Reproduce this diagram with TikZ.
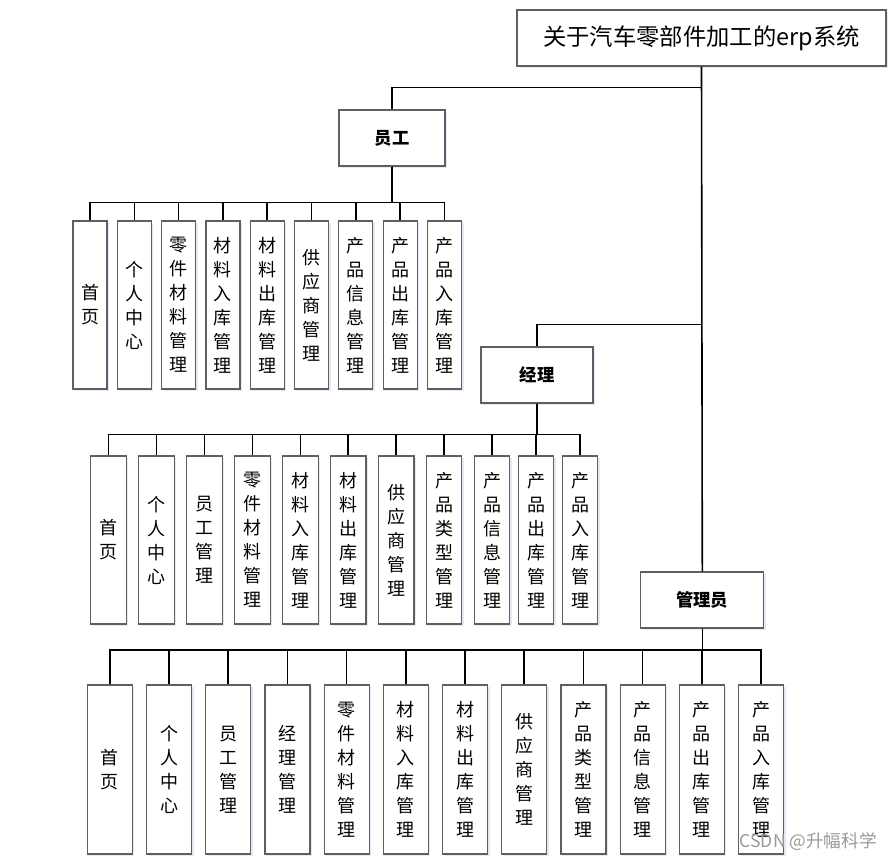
\documentclass[tikz,border=0pt]{standalone}
\usepackage{fontspec}
\newfontfamily\cjk{Noto Sans CJK SC}
\usetikzlibrary{shadows}
\definecolor{boxline}{RGB}{95,95,95}
\definecolor{shadowc}{RGB}{170,195,230}
\tikzset{
  basebox/.style={draw=boxline, line width=0.9pt, fill=white, rectangle, inner sep=0pt,
    drop shadow={shadow xshift=1.6pt, shadow yshift=-1.6pt, fill=shadowc, opacity=0.35}},
  rolebox/.style={basebox, minimum height=56*0.75pt, font=\cjk\bfseries\fontsize{13}{16}\selectfont},
  leafbox/.style={basebox, minimum height=168*0.75pt, align=center,
    font=\cjk\fontsize{13.5}{18}\selectfont},
  ebox/.style={leafbox, minimum width=34*0.75pt},
  mbox/.style={leafbox, minimum width=35.5*0.75pt},
  abox/.style={leafbox, minimum width=45*0.75pt, minimum height=169*0.75pt},
  conn/.style={draw=black, line width=1.2pt},
}
\begin{document}
\begin{tikzpicture}[x=0.75pt,y=-0.75pt]
\useasboundingbox (0,0) rectangle (891,860);
% root and roles
\node[basebox, minimum width=369*0.75pt, minimum height=56*0.75pt, font=\cjk\fontsize{17.5}{20}\selectfont] (root) at (701.5,38) {关于汽车零部件加工的erp系统};
\node[rolebox, minimum width=106*0.75pt] (emp) at (392,138) {员工};
\node[rolebox, minimum width=112*0.75pt] (mgr) at (537,375) {经理};
\node[rolebox, minimum width=123*0.75pt] (adm) at (702.3,600) {管理员};

% employee leaves
\node[ebox] (e1) at (90,305) {首\\页};
\node[ebox] (e2) at (134.3,305) {个\\人\\中\\心};
\node[ebox] (e3) at (178.6,305) {零\\件\\材\\料\\管\\理};
\node[ebox] (e4) at (222.9,305) {材\\料\\入\\库\\管\\理};
\node[ebox] (e5) at (267.2,305) {材\\料\\出\\库\\管\\理};
\node[ebox] (e6) at (311.5,305) {供\\应\\商\\管\\理};
\node[ebox] (e7) at (355.8,305) {产\\品\\信\\息\\管\\理};
\node[ebox] (e8) at (400.1,305) {产\\品\\出\\库\\管\\理};
\node[ebox] (e9) at (444.4,305) {产\\品\\入\\库\\管\\理};

% manager leaves
\node[mbox] (m1) at (108.5,540) {首\\页};
\node[mbox] (m2) at (156.6,540) {个\\人\\中\\心};
\node[mbox] (m3) at (204.6,540) {员\\工\\管\\理};
\node[mbox] (m4) at (252.5,540) {零\\件\\材\\料\\管\\理};
\node[mbox] (m5) at (300.5,540) {材\\料\\入\\库\\管\\理};
\node[mbox] (m6) at (348.2,540) {材\\料\\出\\库\\管\\理};
\node[mbox] (m7) at (396.2,540) {供\\应\\商\\管\\理};
\node[mbox] (m8) at (444,540) {产\\品\\类\\型\\管\\理};
\node[mbox] (m9) at (492,540) {产\\品\\信\\息\\管\\理};
\node[mbox] (m10) at (536,540) {产\\品\\出\\库\\管\\理};
\node[mbox] (m11) at (580,540) {产\\品\\入\\库\\管\\理};

% admin leaves
\node[abox] (a1) at (109.8,769.5) {首\\页};
\node[abox] (a2) at (169,769.5) {个\\人\\中\\心};
\node[abox] (a3) at (228.2,769.5) {员\\工\\管\\理};
\node[abox] (a4) at (287.4,769.5) {经\\理\\管\\理};
\node[abox] (a5) at (346.6,769.5) {零\\件\\材\\料\\管\\理};
\node[abox] (a6) at (405.8,769.5) {材\\料\\入\\库\\管\\理};
\node[abox] (a7) at (465,769.5) {材\\料\\出\\库\\管\\理};
\node[abox] (a8) at (524.2,769.5) {供\\应\\商\\管\\理};
\node[abox] (a9) at (583.4,769.5) {产\\品\\类\\型\\管\\理};
\node[abox] (a10) at (642.6,769.5) {产\\品\\信\\息\\管\\理};
\node[abox] (a11) at (701.8,769.5) {产\\品\\出\\库\\管\\理};
\node[abox] (a12) at (761,769.5) {产\\品\\入\\库\\管\\理};

% top-level connectors
\draw[conn] (root.south) -- (adm.north);
\draw[conn] (emp.north) -- ++(0,-22) -| (root.south);
\draw[conn] (mgr.north) -- ++(0,-22) -| (root.south);

% leaf connectors
\foreach \n in {e1,e2,e3,e4,e5,e6,e7,e8,e9}
  \draw[conn] (emp.south) -- ++(0,36) -| (\n.north);
\foreach \n in {m1,m2,m3,m4,m5,m6,m7,m8,m9,m10,m11}
  \draw[conn] (mgr.south) -- ++(0,30.7) -| (\n.north);
\foreach \n in {a1,a2,a3,a4,a5,a6,a7,a8,a9,a10,a11,a12}
  \draw[conn] (adm.south) -- ++(0,21.3) -| (\n.north);

% watermark
\node[anchor=east, text=black!40, font=\cjk\fontsize{13.2}{15}\selectfont, inner sep=0pt] (wm) at (877,842) {CSDN @升幅科学};
\end{tikzpicture}
\end{document}
